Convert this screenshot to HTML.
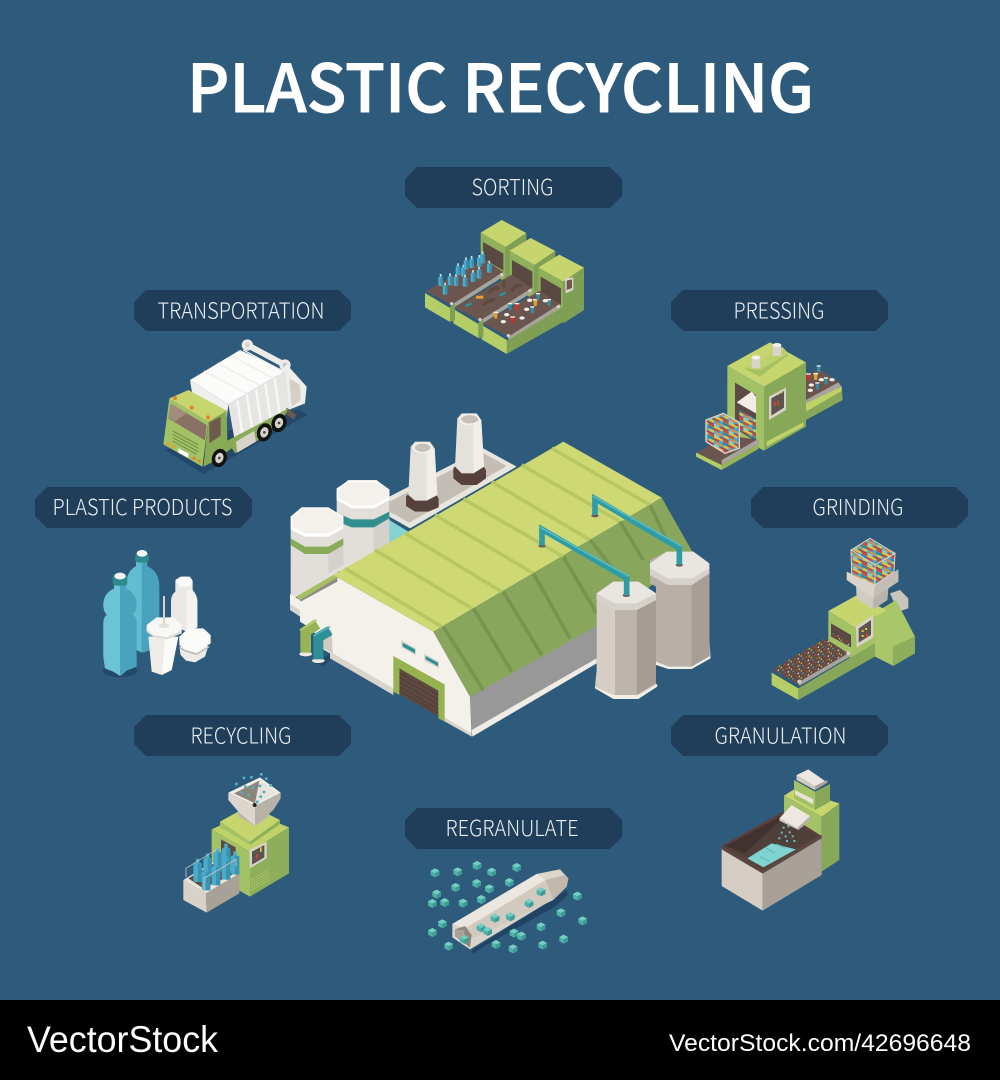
<!DOCTYPE html>
<html><head><meta charset="utf-8"><title>Plastic Recycling</title>
<style>
html,body{margin:0;padding:0;background:#2e5a7c}
svg{display:block}
.t{font-family:"Noto Sans CJK JP","Liberation Sans",sans-serif;fill:#fff;stroke:#fff;stroke-width:.9px}
.l{font-family:"Noto Sans CJK JP","Liberation Sans",sans-serif;fill:#e8eef2;font-size:22px;font-weight:300;text-anchor:start}
.v{font-family:"Liberation Sans",sans-serif;fill:#fff}
</style></head><body>
<svg xmlns="http://www.w3.org/2000/svg" width="1000" height="1080" viewBox="0 0 1000 1080">
<defs>
<pattern id="bale" width="44" height="30" patternUnits="userSpaceOnUse" patternTransform="skewY(25)">
<rect width="44" height="30" fill="#43add0"/>
<rect x="0" y="0" width="26" height="6" fill="#e7c73c"/><rect x="28" y="0" width="16" height="6" fill="#d8452f"/>
<rect x="0" y="7" width="16" height="7" fill="#d8452f"/><rect x="26" y="8" width="18" height="6" fill="#2b7f9a"/>
<rect x="6" y="16" width="20" height="6" fill="#f08c2e"/><rect x="30" y="15" width="14" height="7" fill="#e7c73c"/>
<rect x="0" y="24" width="14" height="5" fill="#8fd3dc"/><rect x="18" y="24" width="26" height="5" fill="#c8342c"/>
</pattern>
<pattern id="bits" width="30" height="22" patternUnits="userSpaceOnUse" patternTransform="skewY(-30)">
<rect x="2" y="3" width="4" height="4" fill="#e7c73c"/><rect x="13" y="1" width="4" height="4" fill="#d8452f"/>
<rect x="23" y="6" width="4" height="4" fill="#eee"/><rect x="7" y="13" width="4" height="4" fill="#43add0"/>
<rect x="18" y="15" width="4" height="4" fill="#d8452f"/><rect x="26" y="17" width="4" height="4" fill="#e7c73c"/>
</pattern>
<g id="cube"><polygon points="0,-13 13,-6 13,7 0,14 -13,7 -13,-6" fill="#4fb0a8"/><polygon points="0,-13 13,-6 0,1 -13,-6" fill="#74cfc3"/><polygon points="0,1 13,-6 13,7 0,14" fill="#3f9c95"/></g>
<g id="bt"><rect x="-7" y="-20" width="14" height="28" rx="4" fill="#4aaccb"/><rect x="0" y="-18" width="7" height="24" fill="#3890ae"/><rect x="-2.5" y="-28" width="5" height="8" fill="#bfe6ee"/></g>
<g id="cp"><polygon points="-6,-10 6,-10 4,8 -4,8" fill="#c8342c"/><rect x="-7" y="-13" width="14" height="4" fill="#f4efe9"/></g>
<g id="cp2"><polygon points="-6,-10 6,-10 4,8 -4,8" fill="#e6a02c"/><rect x="-7" y="-13" width="14" height="4" fill="#f4efe9"/></g>
<g id="cp3"><polygon points="-5,-10 5,-10 4,8 -4,8" fill="#2f8fa8"/><rect x="-6" y="-13" width="12" height="4" fill="#f4efe9"/></g>
<ellipse id="lid" rx="8" ry="5" fill="#f4efe9"/>
<g id="conv">
<polygon points="248,490 420,392 480,432 325,530" fill="#6b564f"/>
<polygon points="325,530 480,432 480,446 325,543" fill="#a8a39b"/>
<polygon points="245,495 325,543 320,582 245,538" fill="#b4cd66"/>
<circle cx="325" cy="527" r="5" fill="#d4d0c8"/><circle cx="475" cy="440" r="5" fill="#d4d0c8"/>
</g>
<g id="hood">
<polygon points="415,322 490,365 490,470 415,425" fill="#90b15a"/>
<polygon points="422,350 483,385 483,435 422,400" fill="#5a4843"/>
<polygon points="415,322 478,284 552,323 490,365" fill="#c6d56d"/>
<polygon points="490,365 552,323 552,450 490,490" fill="#7f9f55"/>
</g>
</defs>

<rect width="1000" height="1000" fill="#2e5a7c"/>
<rect y="1000" width="1000" height="80" fill="#000"/>

<text class="t" x="187" y="112" font-size="66" font-weight="500" textLength="627" lengthAdjust="spacingAndGlyphs">PLASTIC RECYCLING</text>

<!-- label pills -->
<g fill="#203e59">
<polygon points="417,167 610,167 622,179 622,196 610,208 417,208 405,196 405,179"/>
<polygon points="146,290 339,290 351,302 351,319 339,331 146,331 134,319 134,302"/>
<polygon points="683,290 876,290 888,302 888,319 876,331 683,331 671,319 671,302"/>
<polygon points="47,487 240,487 252,499 252,516 240,528 47,528 35,516 35,499"/>
<polygon points="763,487 956,487 968,499 968,516 956,528 763,528 751,516 751,499"/>
<polygon points="146,715 339,715 351,727 351,744 339,756 146,756 134,744 134,727"/>
<polygon points="683,715 876,715 888,727 888,744 876,756 683,756 671,744 671,727"/>
<polygon points="417,808 610,808 622,820 622,837 610,849 417,849 405,837 405,820"/>
</g>
<text class="l" x="471.5" y="195" textLength="82" lengthAdjust="spacingAndGlyphs">SORTING</text>
<text class="l" x="157.5" y="318.5" textLength="167" lengthAdjust="spacingAndGlyphs">TRANSPORTATION</text>
<text class="l" x="733.5" y="318.5" textLength="91" lengthAdjust="spacingAndGlyphs">PRESSING</text>
<text class="l" x="52.5" y="515" textLength="180" lengthAdjust="spacingAndGlyphs">PLASTIC PRODUCTS</text>
<text class="l" x="812.5" y="515" textLength="91" lengthAdjust="spacingAndGlyphs">GRINDING</text>
<text class="l" x="190.5" y="743.5" textLength="101" lengthAdjust="spacingAndGlyphs">RECYCLING</text>
<text class="l" x="714.5" y="743.5" textLength="132" lengthAdjust="spacingAndGlyphs">GRANULATION</text>
<text class="l" x="445.5" y="836" textLength="133" lengthAdjust="spacingAndGlyphs">REGRANULATE</text>

<!-- FACTORY -->
<g transform="translate(280 400) scale(.33333)">
<polygon points="110,790 155,755 160,770 130,800" fill="#24486a"/>
<!-- back platform -->
<polygon points="328,290 610,145 710,200 390,385 328,350" fill="#e8e4de"/>
<polygon points="328,305 612,160 680,198 388,368 328,335" fill="#c3bdb5"/>
<polygon points="328,360 385,395 328,428" fill="#86d3d3"/>
<!-- chimneys -->
<polygon points="378,290 395,270 460,270 476,295 476,322 445,335 405,335 378,318" fill="#55423e"/>
<polygon points="392,140 405,125 450,125 464,145 472,285 440,302 405,302 385,285" fill="#e4e1dd"/>
<polygon points="440,150 464,145 472,285 440,302" fill="#f1eeea"/>
<ellipse cx="428" cy="143" rx="26" ry="15" fill="#c7c0b8" stroke="#f4f1ec" stroke-width="5"/>
<polygon points="520,205 535,185 600,185 618,210 618,235 590,255 545,255 520,235" fill="#55423e"/>
<polygon points="532,55 545,40 590,40 604,60 612,200 580,220 545,220 525,200" fill="#e4e1dd"/>
<polygon points="580,65 604,60 612,200 580,220" fill="#f1eeea"/>
<ellipse cx="569" cy="58" rx="28" ry="15" fill="#c7c0b8" stroke="#f4f1ec" stroke-width="5"/>
<!-- tank 2 -->
<polygon points="170,268 205,240 290,240 328,270 328,440 190,520 170,510" fill="#e2dfdb"/>
<polygon points="280,355 328,335 328,430 280,460" fill="#d4d1cd"/>
<polygon points="170,265 205,242 290,242 328,268 328,300 282,325 215,325 170,300" fill="#fff"/>
<polygon points="173,268 207,246 288,246 325,270 325,292 282,315 215,315 173,292" fill="#f4f0eb"/>
<polygon points="190,347 215,358 282,358 328,335 328,355 282,382 215,382 190,372" fill="#338e90"/>
<!-- tank 1 -->
<polygon points="32,350 65,322 145,322 190,350 190,500 160,530 32,600" fill="#e2dfdb"/>
<polygon points="145,440 190,420 190,495 145,520" fill="#d4d1cd"/>
<polygon points="32,350 65,322 145,322 190,350 190,385 145,410 75,410 32,388" fill="#fff"/>
<polygon points="36,352 67,326 143,326 187,352 187,378 143,400 77,400 36,380" fill="#f4f0eb"/>
<polygon points="32,415 75,440 145,440 190,415 190,435 145,462 75,462 32,435" fill="#89ab58"/>
<!-- wall -->
<polygon points="30,582 60,600 160,525 460,695 570,890 575,1008 490,955 340,870 150,760 125,745 100,690 60,665 60,640 30,620" fill="#f4f0ea"/>
<polygon points="150,755 340,865 340,885 150,775" fill="#d9d4cc"/>
<polygon points="490,950 575,1000 575,1010 490,962" fill="#d9d4cc"/>
<polygon points="30,612 60,630 60,650 30,630" fill="#d9d4cc"/>
<polygon points="130,700 155,690 158,760 130,745" fill="#cfcac2"/>
<!-- gray side -->
<polygon points="570,890 950,675 950,780 575,990" fill="#989898"/>
<polygon points="575,990 950,775 950,790 577,1010" fill="#f0ece5"/>
<!-- eave -->
<polygon points="48,590 165,522 172,532 60,600" fill="#a4c05c"/>
<polygon points="60,600 172,532 172,545 62,605" fill="#8f8a83"/>
<!-- roofs -->
<polygon points="460,695 1145,293 1240,460 1110,560 950,678 570,890" fill="#88a65c"/>
<polygon points="160,525 850,125 1145,293 460,695" fill="#cfd974"/>
<g stroke="#b6c764" stroke-width="11" fill="none">
<path d="M195,505 L485,680M285,450 L575,625M375,400 L665,575M465,345 L760,520M550,297 L850,470M635,245 L930,420M725,195 L1020,365M815,145 L1110,315"/>
</g>
<g stroke="#779550" stroke-width="11" fill="none">
<path d="M490,680 L610,870M580,625 L695,815M670,575 L785,765M760,520 L870,715M850,470 L950,640M930,420 L1010,520M1020,365 L1090,480M1110,315 L1160,420"/>
</g>
<!-- door -->
<polygon points="340,768 494,853 494,965 475,955 475,875 358,810 358,885 340,875" fill="#95b450"/>
<polygon points="358,805 475,872 475,950 358,882" fill="#5e4940"/>
<g stroke="#4e3b33" stroke-width="2.5"><path d="M358,818 L475,885M358,832 L475,899M358,846 L475,913M358,860 L475,927M358,872 L475,939"/></g>
<!-- windows -->
<polygon points="363,720 408,745 408,767 363,742" fill="#dcd7cf"/><polygon points="368,728 405,748 405,760 368,740" fill="#2f8f97"/>
<polygon points="432,760 477,785 477,806 432,782" fill="#dcd7cf"/><polygon points="437,768 474,788 474,799 437,778" fill="#2f8f97"/>
<!-- pipes left -->
<ellipse cx="77" cy="762" rx="19" ry="7" fill="#efeae3"/>
<path d="M77,758 V695 L112,672" stroke="#96b455" stroke-width="32" fill="none" stroke-linejoin="round"/>
<path d="M60,690 L110,660" stroke="#b7cf68" stroke-width="5" fill="none"/>
<ellipse cx="115" cy="782" rx="19" ry="7" fill="#efeae3"/>
<path d="M115,778 V712 L150,692" stroke="#2f8f97" stroke-width="30" fill="none" stroke-linejoin="round"/>
<path d="M100,708 L150,680" stroke="#4fb4b8" stroke-width="5" fill="none"/>
<!-- tank B -->
<polygon points="1110,480 1160,455 1240,455 1288,490 1288,720 1292,770 1235,805 1165,805 1128,790 1128,560 1110,550" fill="#b8b0a7"/>
<polygon points="1235,555 1288,520 1288,770 1235,800" fill="#a79f96"/>
<polygon points="1110,490 1160,455 1240,455 1288,490 1288,520 1235,555 1165,555 1110,525" fill="#e9e5e0"/>
<polygon points="1110,505 1165,535 1235,535 1288,505 1288,520 1235,555 1165,555 1110,525" fill="#d6d1ca"/>
<polygon points="1128,785 1165,800 1235,800 1290,768 1292,775 1235,807 1165,807 1128,795" fill="#f1ede7"/>
<!-- tank A -->
<polygon points="950,580 1000,545 1075,545 1128,580 1128,850 1130,855 1075,895 1000,895 945,860 950,810" fill="#d6cec5"/>
<polygon points="1005,630 1070,630 1070,885 1005,885" fill="#bdb5ac"/>
<polygon points="1070,630 1128,598 1128,850 1070,885" fill="#a59d94"/>
<polygon points="950,580 1000,545 1075,545 1128,580 1128,600 1070,630 1005,630 950,600" fill="#e9e5e0"/>
<polygon points="950,580 1005,610 1070,610 1128,580 1128,600 1070,630 1005,630 950,600" fill="#d6d1ca"/>
<polygon points="945,860 1000,885 1075,885 1132,852 1132,860 1075,897 1000,897 945,865" fill="#f1ede7"/>
<!-- teal pipes -->
<ellipse cx="786" cy="438" rx="11" ry="5" fill="#6d5a55"/><ellipse cx="945" cy="347" rx="11" ry="5" fill="#6d5a55"/><ellipse cx="1198" cy="495" rx="11" ry="5" fill="#6d5a55"/><ellipse cx="1039" cy="586" rx="11" ry="5" fill="#6d5a55"/>
<g stroke="#2f9ba6" stroke-width="17" fill="none"><path d="M786,436 V388 L1040,535 V586"/><path d="M945,345 V296 L1198,445 V494"/></g>
<g stroke="#57bcc1" stroke-width="5" fill="none"><path d="M781,382 L1045,528"/><path d="M940,289 L1204,438"/></g>
</g>

<!-- SORTING -->
<g transform="translate(400 160) scale(.33333)">
<use href="#hood" x="-173" y="-104"/>
<use href="#hood" x="-86" y="-50"/>
<use href="#hood"/>
<use href="#conv" x="-170" y="-96"/>
<use href="#conv" x="-85" y="-48"/>
<use href="#conv"/>
<polygon points="320,543 480,446 552,408 552,450 320,582" fill="#7f9f55"/>
<polygon points="150,440 165,430 165,480 150,486" fill="#7f9f55"/>
<polygon points="235,488 250,478 250,530 235,535" fill="#7f9f55"/>
<polygon points="495,355 520,352 520,390 497,400" fill="#ddd6cc"/><polygon points="500,362 516,358 516,384 500,390" fill="#6c5850"/>
<use href="#bt" x="122" y="370"/><use href="#bt" x="135" y="396"/><use href="#bt" x="150" y="368"/><use href="#bt" x="168" y="370"/><use href="#bt" x="174" y="338"/><use href="#bt" x="190" y="342"/><use href="#bt" x="195" y="372"/><use href="#bt" x="198" y="320"/><use href="#bt" x="215" y="316"/><use href="#bt" x="219" y="358"/><use href="#bt" x="237" y="348"/><use href="#bt" x="238" y="313"/><use href="#bt" x="248" y="302"/><use href="#bt" x="268" y="330"/>
<path d="M265,400 Q280,380 298,386M335,395 Q345,372 366,378M250,436 Q262,418 285,420" stroke="#5c4a3e" stroke-width="10" fill="none"/>
<g fill="#2f8f97"><rect x="196" y="430" width="20" height="8" transform="rotate(-25 206 434)"/><rect x="298" y="398" width="20" height="8" transform="rotate(-25 308 402)"/></g>
<rect x="228" y="407" width="22" height="9" fill="#e6a02c"/><rect x="308" y="362" width="8" height="20" fill="#5c4a3e"/>
<use href="#cp3" x="330" y="442"/><use href="#cp" x="351" y="442"/><use href="#cp2" x="287" y="468"/><use href="#cp" x="338" y="482"/><use href="#cp2" x="406" y="430"/><use href="#cp3" x="397" y="452"/><use href="#cp3" x="447" y="430"/><use href="#cp3" x="414" y="412"/>
<use href="#lid" x="320" y="464"/><use href="#lid" x="380" y="448"/><use href="#lid" x="366" y="474"/><use href="#lid" x="310" y="485"/><use href="#lid" x="389" y="421"/><use href="#lid" x="436" y="422"/>
</g>

<!-- TRUCK -->
<g transform="translate(130 285) scale(.33333)">
<polygon points="105,495 220,567 532,390 505,372" fill="#24486a"/>
<path d="M352,180 L465,240" stroke="#ecebe8" stroke-width="18"/>
<circle cx="352" cy="180" r="17" fill="#ecebe8"/><circle cx="352" cy="180" r="7" fill="#d5d1cb"/>
<circle cx="465" cy="240" r="17" fill="#ecebe8"/><circle cx="465" cy="240" r="7" fill="#c9c5bf"/>
<polygon points="470,238 530,305 525,355 475,375 440,270" fill="#eeeeec"/>
<polygon points="478,280 510,300 512,345 485,365" fill="#d5cfc4"/>
<polygon points="180,285 330,195 465,258 295,358" fill="#fbfbfa"/>
<g stroke="#eeedea" stroke-width="4"><path d="M222,258 L350,325M262,235 L392,302M303,212 L430,280M340,195 L465,262"/></g>
<polygon points="180,285 295,358 290,400 188,335" fill="#efefed"/>
<polygon points="295,358 465,258 478,372 385,465 320,500" fill="#e6e5e3"/>
<g stroke="#f7f7f5" stroke-width="7"><path d="M322,345 L342,480M350,328 L370,455M378,312 L396,435M406,296 L424,415M434,280 L450,395"/></g>
<polygon points="470,368 500,390 490,403 465,385" fill="#6d5850"/>
<polygon points="290,468 385,418 475,370 460,400 385,465 316,505" fill="#89ab58"/>
<polygon points="318,470 372,438 378,470 322,503" fill="#d8d4cc"/>
<!-- cab -->
<polygon points="235,410 290,375 292,470 316,482 250,530 220,545" fill="#88aa55"/>
<polygon points="118,340 235,410 217,545 100,478" fill="#a3c266"/>
<polygon points="118,340 175,315 290,377 235,410" fill="#c6d56d"/>
<polygon points="122,356 230,420 225,466 115,400" fill="#897264"/>
<polygon points="122,356 170,385 135,410 116,398" fill="#a18d7e"/>
<polygon points="238,412 272,395 272,452 238,475" fill="#6f5a4e"/>
<g stroke="#6e8d45" stroke-width="3"><path d="M128,438 L205,480M128,448 L205,490M128,458 L205,500M128,468 L200,508"/></g>
<polygon points="145,490 175,505 175,518 145,503" fill="#fff"/>
<circle cx="135" cy="339" r="6" fill="#e5822a"/><circle cx="185" cy="368" r="6" fill="#e5822a"/><circle cx="234" cy="397" r="6" fill="#e5822a"/>
<circle cx="115" cy="477" r="5" fill="#e5a12a"/><circle cx="130" cy="485" r="5" fill="#e5a12a"/><circle cx="192" cy="520" r="5" fill="#e5822a"/><circle cx="208" cy="528" r="5" fill="#e5822a"/>
<ellipse cx="268" cy="519" rx="22" ry="28" fill="#111" transform="rotate(20 268 519)"/><ellipse cx="268" cy="519" rx="12" ry="16" fill="#d6d3cd" transform="rotate(20 268 519)"/><circle cx="268" cy="519" r="4" fill="#444"/>
<ellipse cx="403" cy="442" rx="22" ry="28" fill="#111" transform="rotate(20 403 442)"/><ellipse cx="403" cy="442" rx="12" ry="16" fill="#d6d3cd" transform="rotate(20 403 442)"/><circle cx="403" cy="442" r="4" fill="#444"/>
<ellipse cx="447" cy="414" rx="22" ry="28" fill="#111" transform="rotate(20 447 414)"/><ellipse cx="447" cy="414" rx="12" ry="16" fill="#d6d3cd" transform="rotate(20 447 414)"/><circle cx="447" cy="414" r="4" fill="#444"/>
</g>

<!-- PRESSING -->
<g transform="translate(670 285) scale(.33333)">
<polygon points="408,275 445,250 510,295 408,355" fill="#6b564f"/>
<polygon points="408,345 505,292 515,305 408,368" fill="#a8a39b"/>
<polygon points="408,368 515,305 518,345 408,405" fill="#86a858"/>
<polygon points="408,355 515,305 515,318 408,380" fill="#bfd268"/>
<use href="#cp" x="415" y="278"/><use href="#cp2" x="437" y="277"/><use href="#cp3" x="468" y="290"/><use href="#cp3" x="442" y="305"/><use href="#cp3" x="446" y="254"/><use href="#lid" x="454" y="284"/><use href="#lid" x="486" y="284"/><use href="#lid" x="421" y="316"/><use href="#lid" x="424" y="300"/>
<polygon points="172,243 282,305 282,497 172,435" fill="#a3c266"/>
<polygon points="195,293 258,330 258,470 195,430" fill="#5c4a45"/>
<polygon points="200,352 245,320 258,335 258,385 200,352" fill="#f1ede6"/>
<polygon points="208,375 258,403 258,465 208,435" fill="url(#bale)"/>
<polygon points="282,305 408,232 408,425 282,497" fill="#86a858"/>
<polygon points="172,243 300,172 408,232 282,305" fill="#c6d56d"/>
<polygon points="222,250 338,190 355,210 270,275" fill="#a5c163"/>
<polygon points="222,250 338,186 355,205 270,255" fill="#bdd069"/>
<polygon points="290,470 400,412 400,424 290,484" fill="#bfd268"/>
<rect x="245" y="216" width="26" height="34" rx="3" fill="#d9d4cb"/><ellipse cx="258" cy="217" rx="13" ry="6" fill="#f5f1ea"/>
<rect x="308" y="179" width="26" height="34" rx="3" fill="#d9d4cb"/><ellipse cx="321" cy="180" rx="13" ry="6" fill="#f5f1ea"/>
<polygon points="297,335 348,308 348,375 297,405" fill="#d8d2c9"/>
<polygon points="304,340 342,318 342,368 304,392" fill="#5c5450"/>
<g fill="#e7c73c"><rect x="322" y="325" width="5" height="5"/><rect x="332" y="320" width="5" height="5"/></g>
<g fill="#d8452f"><rect x="312" y="350" width="5" height="14"/><rect x="322" y="347" width="5" height="14"/></g>
<polygon points="78,505 170,450 265,465 265,478 155,540" fill="#6b564f"/>
<polygon points="155,525 265,462 265,478 155,540" fill="#a8a39b"/>
<polygon points="78,503 155,540 155,555 78,515" fill="#b4cd66"/>
<polygon points="155,540 265,478 265,492 155,555" fill="#96b455"/>
<polygon points="108,405 160,385 208,412 208,490 165,505 108,470" fill="url(#bale)" stroke="#d9d4cb" stroke-width="4"/>
</g>

<!-- GRINDING -->
<g transform="translate(750 530) scale(.33333)">
<polygon points="420,190 450,180 475,205 475,235 445,245" fill="#c9c5bd"/>
<polygon points="372,250 438,210 495,320 430,350 430,408 375,380" fill="#a9c668"/>
<polygon points="430,350 495,320 495,370 430,408" fill="#8dae5a"/>
<polygon points="235,243 318,197 410,240 372,262 315,293" fill="#c6d56d"/>
<polygon points="235,243 315,293 375,255 375,345 305,385 235,345" fill="#a3c266"/>
<polygon points="243,280 303,315 303,352 243,320" fill="#5a4843"/>
<polygon points="248,308 300,335 300,350 248,322" fill="url(#bits)"/>
<polygon points="318,290 370,255 370,322 320,352" fill="#d8d2c9"/>
<polygon points="326,295 363,270 363,315 326,338" fill="#5c5450"/>
<g fill="#e7c73c"><rect x="335" y="300" width="6" height="6"/><rect x="345" y="294" width="6" height="6"/><rect x="335" y="315" width="6" height="6"/></g>
<rect x="348" y="310" width="6" height="12" fill="#d8452f"/>
<!-- conveyor -->
<polygon points="145,475 305,380 375,340 375,380 145,510" fill="#86a858"/>
<polygon points="65,428 145,475 145,510 65,465" fill="#b4cd66"/>
<polygon points="70,418 225,325 303,375 148,465" fill="#5e4c46"/>
<polygon points="70,418 225,325 303,375 148,465" fill="url(#bits)"/>
<polygon points="148,455 298,368 303,378 148,468" fill="#a8a39b"/>
<circle cx="148" cy="455" r="6" fill="#d4d0c8"/><circle cx="295" cy="370" r="6" fill="#d4d0c8"/>
<!-- hopper -->
<polygon points="318,165 370,195 415,170 412,210 370,238 320,205" fill="#cfcac2"/>
<polygon points="370,195 415,170 412,210 370,238" fill="#b9b3ab"/>
<polygon points="290,125 375,165 445,118 445,155 370,205 290,150" fill="#d8d3cb"/>
<polygon points="375,165 445,118 445,155 370,205" fill="#c3bdb5"/>
<!-- bale -->
<polygon points="303,60 360,25 435,70 375,105" fill="url(#bale)" stroke="#d9d4cb" stroke-width="3"/>
<polygon points="303,60 375,105 375,165 305,135" fill="url(#bale)" stroke="#d9d4cb" stroke-width="3"/>
<polygon points="375,105 435,70 432,125 375,165" fill="url(#bale)" stroke="#d9d4cb" stroke-width="3"/>
</g>

<!-- BOTTLES & PRODUCTS -->
<g transform="translate(90 540) scale(.33333)">
<ellipse cx="90" cy="392" rx="52" ry="20" fill="#24486a"/>
<path d="M138,64 L172,64 L172,78 Q208,95 208,140 L208,320 L160,338 L140,330 L108,310 L108,140 Q108,95 138,78 Z" fill="#4aa3bd"/>
<path d="M138,64 L155,64 L155,338 L140,330 L108,310 L108,140 Q108,95 138,78 Z" fill="#62bcd2"/>
<rect x="136" y="38" width="40" height="30" rx="9" fill="#2f8a8d"/><ellipse cx="156" cy="40" rx="16" ry="10" fill="#f7f7f4"/>
<path d="M72,132 L108,132 L108,146 Q140,160 140,195 Q140,215 128,222 Q140,232 140,250 L140,380 L110,392 L92,408 L70,395 L45,385 L40,350 L40,250 Q40,232 50,225 Q40,212 40,195 Q40,160 72,146 Z" fill="#4aa3bd"/>
<path d="M72,132 L90,132 L90,408 L70,395 L45,385 L40,350 L40,250 Q40,232 50,225 Q40,212 40,195 Q40,160 72,146 Z" fill="#6cc3d8"/>
<rect x="68" y="103" width="44" height="34" rx="9" fill="#2f8a8d"/><ellipse cx="90" cy="108" rx="17" ry="10" fill="#f7f7f4"/>
<!-- white bottle -->
<path d="M256,125 Q262,110 285,110 Q306,110 308,125 L308,155 Q322,165 322,185 L322,262 L290,275 L243,255 L243,185 Q243,165 256,155 Z" fill="#ebe9e5"/>
<path d="M290,150 L308,150 Q322,165 322,185 L322,262 L290,275 Z" fill="#f5f3f0"/>
<polygon points="256,120 272,110 300,110 308,125 300,140 270,140" fill="#fbfbf9"/>
<!-- cup -->
<polygon points="175,290 265,290 245,390 215,405 185,395" fill="#eeece8"/>
<polygon points="225,298 265,290 245,390 215,405" fill="#fbfbfa"/>
<polygon points="170,255 200,232 250,232 275,255 275,280 230,298 190,290 170,275" fill="#f8f8f5"/>
<polygon points="170,268 190,285 230,292 275,272 275,280 230,298 190,290 170,275" fill="#dedcd8"/>
<rect x="219" y="168" width="6" height="90" fill="#d6d3cd"/><ellipse cx="222" cy="257" rx="16" ry="7" fill="#e3e1dc"/>
<!-- bowl -->
<polygon points="268,320 355,318 345,350 315,367 288,362 272,345" fill="#ecebe7"/>
<polygon points="268,290 295,265 340,265 362,285 362,310 320,338 285,328 268,315" fill="#fafaf8"/>
<polygon points="268,320 285,330 320,340 358,318 358,322 320,345 285,335 268,325" fill="#bdb9b2"/>
</g>

<!-- RECYCLING -->
<g transform="translate(170 770) scale(.33333)">
<polygon points="125,178 240,245 240,380 125,315" fill="#a3c266"/>
<polygon points="240,245 357,172 357,310 240,380" fill="#8dae5a"/>
<polygon points="125,178 240,125 357,172 240,245" fill="#bfd268"/>
<polygon points="150,155 240,105 330,150 240,215" fill="#c6d56d"/>
<polygon points="150,155 240,215 240,225 150,172" fill="#a3c266"/>
<polygon points="330,150 240,215 240,225 330,162" fill="#8dae5a"/>
<polygon points="153,208 197,232 197,290 153,265" fill="#5c4a45"/>
<!-- hopper -->
<polygon points="205,125 255,150 298,125 298,138 255,168 205,140" fill="#bdb6ad"/>
<polygon points="175,68 175,90 205,125 255,168 255,108" fill="#dcd6cd"/>
<polygon points="255,108 332,68 332,85 310,120 255,168" fill="#b8b1a8"/>
<polygon points="175,68 270,22 332,68 255,108" fill="#f0ece6"/>
<polygon points="192,70 268,32 314,68 255,100" fill="#8d857b"/>
<polygon points="255,100 314,68 268,32" fill="#e9e4dd"/>
<circle cx="254" cy="105" r="6" fill="#222"/>
<g fill="#4fb2bb"><rect x="195" y="38" width="8" height="8"/><rect x="218" y="20" width="8" height="8"/><rect x="240" y="18" width="8" height="8"/><rect x="270" y="9" width="8" height="8"/><rect x="285" y="22" width="8" height="8"/><rect x="298" y="42" width="8" height="8"/><rect x="222" y="46" width="8" height="8"/><rect x="244" y="50" width="8" height="8"/><rect x="266" y="44" width="8" height="8"/><rect x="212" y="64" width="8" height="8"/><rect x="232" y="72" width="8" height="8"/><rect x="278" y="62" width="8" height="8"/><rect x="268" y="76" width="8" height="8"/><rect x="258" y="92" width="8" height="8"/></g>
<!-- panel -->
<polygon points="238,240 290,215 290,265 240,295" fill="#d8d2c9"/>
<polygon points="246,245 283,225 283,262 246,284" fill="#5c5450"/>
<g fill="#e7c73c"><rect x="270" y="232" width="5" height="14"/></g><rect x="258" y="252" width="5" height="14" fill="#d8452f"/>
<!-- grille -->
<g stroke="#bdd069" stroke-width="3" stroke-dasharray="3 3"><path d="M242,330 L298,298M242,338 L298,306M242,346 L298,314M242,354 L298,322M242,362 L298,330"/></g>
<!-- conveyor -->
<polygon points="40,330 108,370 110,428 40,390" fill="#d8d2c8"/>
<polygon points="108,370 208,310 208,370 110,428" fill="#a8a198"/>
<polygon points="40,330 140,270 208,310 108,370" fill="#e8e3db"/>
<polygon points="55,325 150,270 195,310 100,355" fill="#5e4c46"/>
<g transform="translate(-8 0)">
<g id="bw"><rect x="78" y="278" width="26" height="58" rx="7" fill="#49accb"/><rect x="91" y="280" width="13" height="56" fill="#3a93b2"/><rect x="86" y="266" width="10" height="14" fill="#49accb"/></g>
<use href="#bw" x="30" y="-15"/><use href="#bw" x="60" y="-32"/><use href="#bw" x="85" y="-45"/><use href="#bw" x="25" y="25"/><use href="#bw" x="55" y="10"/><use href="#bw" x="85" y="-7"/><use href="#bw" x="112" y="-22"/>
</g>
<g stroke="#c9c5bd" stroke-width="2.5" fill="none"><path d="M48,322 V295 L150,232"/><path d="M102,358 V325 L198,268 V288"/></g>
</g>

<!-- REGRANULATE -->
<g transform="translate(415 850) scale(.33333)">
<polygon points="170,300 410,150 455,120 458,135 420,170 205,290 175,312" fill="#224464"/>
<polygon points="112,222 365,72 435,58 460,85 455,110 410,150 165,298 112,262" fill="#d9d3ca"/>
<polygon points="112,222 365,72 392,90 150,235" fill="#ebe6df"/>
<polygon points="365,72 435,58 447,75 392,90" fill="#dcd5c9"/>
<polygon points="392,90 447,75 460,85 455,110 415,150" fill="#c2b9ac"/>
<polygon points="150,235 392,90 415,150 175,265" fill="#d2cabe"/>
<polygon points="120,238 150,228 170,255 165,292 120,258" fill="#8d8679"/>
<polygon points="120,238 148,240 148,272 120,258" fill="#a9a296"/>
<g id="cs">
<use href="#cube" x="60" y="68"/><use href="#cube" x="128" y="65"/><use href="#cube" x="186" y="46"/><use href="#cube" x="230" y="66"/><use href="#cube" x="305" y="52"/><use href="#cube" x="122" y="112"/><use href="#cube" x="185" y="100"/><use href="#cube" x="223" y="116"/><use href="#cube" x="283" y="97"/><use href="#cube" x="65" y="132"/><use href="#cube" x="52" y="160"/><use href="#cube" x="89" y="157"/><use href="#cube" x="144" y="159"/><use href="#cube" x="199" y="148"/><use href="#cube" x="487" y="138"/><use href="#cube" x="438" y="188"/><use href="#cube" x="503" y="212"/><use href="#cube" x="82" y="221"/><use href="#cube" x="52" y="247"/><use href="#cube" x="378" y="230"/><use href="#cube" x="446" y="267"/><use href="#cube" x="101" y="288"/><use href="#cube" x="243" y="283"/><use href="#cube" x="294" y="296"/><use href="#cube" x="383" y="285"/><use href="#cube" x="297" y="249"/><use href="#cube" x="319" y="258"/><use href="#cube" x="378" y="125"/><use href="#cube" x="342" y="160"/><use href="#cube" x="286" y="200"/><use href="#cube" x="240" y="204"/><use href="#cube" x="198" y="233"/><use href="#cube" x="218" y="244"/><use href="#cube" x="148" y="268"/>
</g>
</g>

<!-- GRANULATION -->
<g transform="translate(710 760) scale(.33333)">
<polygon points="222,107 335,170 335,340 222,275" fill="#a3c266"/>
<polygon points="335,165 388,130 388,300 335,335" fill="#86a858"/>
<polygon points="222,107 252,88 388,130 335,170" fill="#c6d56d"/>
<polygon points="252,60 315,95 315,150 252,115" fill="#a3c266"/>
<polygon points="315,95 360,72 360,125 315,150" fill="#86a858"/>
<polygon points="260,45 295,28 352,68 315,90 260,60" fill="#ece7e0"/>
<polygon points="260,45 315,78 315,90 260,60" fill="#cfc9c0"/>
<polygon points="315,78 352,60 352,68 315,90" fill="#a9a297"/>
<polygon points="255,90 310,118 310,133 255,103" fill="#e8e3db"/>
<polygon points="35,258 218,155 335,228 158,335" fill="#5b3f3a"/>
<polygon points="48,258 218,165 322,228 158,322" fill="#4e3f3b"/>
<polygon points="48,258 218,165 218,175 105,280" fill="#3f322f"/>
<polygon points="112,295 185,250 258,268 160,322" fill="#7fd3d0"/>
<g stroke="#5fb7b6" stroke-width="3" fill="none"><path d="M165,262 L195,280M200,252 L225,265M150,290 L180,305"/></g>
<polygon points="35,265 158,335 158,452 35,378" fill="#d6cec4"/>
<polygon points="158,335 335,228 335,345 158,452" fill="#a9a197"/>
<polygon points="35,258 158,330 335,224 335,235 158,341 35,268" fill="#5a4843"/>
<polygon points="208,175 245,135 300,168 262,205" fill="#ece7e0"/>
<polygon points="262,205 300,168 302,180 265,210" fill="#b8b1a6"/>
<polygon points="208,175 262,205 265,210 208,182" fill="#cfc9c0"/>
<g fill="#63c3c3"><rect x="218" y="200" width="6" height="6"/><rect x="232" y="196" width="6" height="6"/><rect x="212" y="215" width="6" height="6"/><rect x="236" y="214" width="6" height="6"/><rect x="224" y="226" width="6" height="6"/><rect x="245" y="226" width="6" height="6"/><rect x="205" y="232" width="6" height="6"/><rect x="250" y="240" width="6" height="6"/><rect x="228" y="240" width="6" height="6"/></g>
</g>

<text class="v" x="27" y="1052" font-size="37" textLength="191" lengthAdjust="spacingAndGlyphs">VectorStock</text>
<text class="v" x="669" y="1051" font-size="24" textLength="302" lengthAdjust="spacingAndGlyphs">VectorStock.com/42696648</text>
</svg>
</body></html>
